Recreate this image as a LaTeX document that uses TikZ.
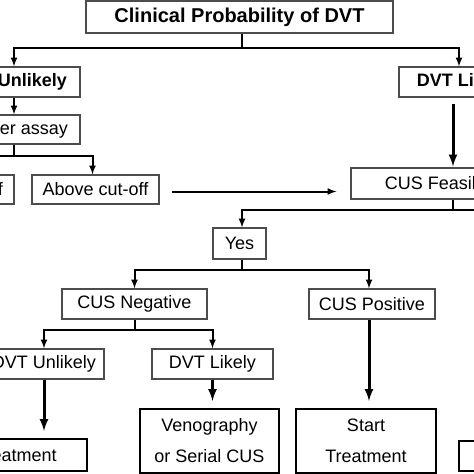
\documentclass[tikz,border=0pt]{standalone}
\usepackage{fontspec}
\setmainfont{Liberation Sans}
\usetikzlibrary{arrows,calc}

\begin{document}
\begin{tikzpicture}[x=1pt,y=-1pt,
    box/.style={draw=black!70, line width=1.2pt, inner sep=0pt, minimum height=30pt,
      font=\fontsize{18}{31}\selectfont, align=center},
    bbox/.style={box, font=\fontsize{18}{31}\selectfont\bfseries},
    endbox/.style={box, draw=black, line width=2.2pt},
    conn/.style={line width=2pt},
    arr/.style={conn, -latex},
    tarr/.style={line width=3pt, -latex, shorten >=7pt},]
    \useasboundingbox (0,0) rectangle (474,474);
    \clip (0,0) rectangle (474,474);
    \node [box, font=\fontsize{20}{24}\selectfont\bfseries, minimum width=307pt, minimum height=32pt] (title) at (239.5,17) {Clinical Probability of DVT};
    \node [bbox, minimum width=136pt] (dvtUa) at (12,82) {DVT Unlikely};
    \node [bbox, minimum width=128pt] (dvtLa) at (463,82) {DVT Likely};
    \node [box, minimum width=140pt, minimum height=29pt] (ddim) at (10,129.5) {D-dimer assay};
    \node [box, minimum width=126pt, minimum height=29pt] (below) at (-49,189.5) {Below cut-off};
    \node [box, minimum width=127pt, minimum height=29pt] (above) at (95.5,189.5) {Above cut-off};
    \node [box, minimum width=179pt, minimum height=31pt] (cusF) at (440.5,183.5) {CUS Feasible};
    \node [box, minimum width=53pt, minimum height=31pt] (yes) at (239.5,243.5) {Yes};
    \node [box, minimum width=145pt] (cusN) at (134.5,304) {CUS Negative};
    \node [box, minimum width=126pt] (cusP) at (372,304) {CUS Positive};
    \node [box, minimum width=120pt] (dvtUb) at (44,364) {DVT Unlikely};
    \node [box, minimum width=121pt] (dvtLb) at (212.5,364) {DVT Likely};
    \node [endbox, minimum width=170pt, minimum height=32pt] (noTr) at (2,455) {No Treatment};
    \node [endbox, minimum width=139pt, minimum height=64pt] (veno) at (209.5,441) {Venography\\or Serial CUS};
    \node [endbox, minimum width=140pt, minimum height=64pt] (start) at (366,441) {Start\\Treatment};
    \node [endbox, minimum width=122pt, minimum height=30pt] (rbox) at (520,456) {};
    % clinical probability split
    \coordinate (t1) at (242,48);
    \coordinate (uL) at (14,0);
    \coordinate (lL) at (459,0);
    \draw [conn] (title.south -| t1) -- (t1);
    \draw [arr] (t1) -| (dvtUa.north -| uL);
    \draw [arr] (t1) -| (dvtLa.north -| lL);
    % unlikely branch
    \draw [arr] (dvtUa.south -| uL) -- (ddim.north -| uL);
    \coordinate (d1) at (14,156);
    \draw [conn] (ddim.south -| d1) -- (d1);
    \draw [arr] (d1) -| ([xshift=-3pt]above.north);
    \draw [arr] (d1) -| (below.north);
    \draw [arr, shorten <=12pt, shorten >=14pt] ([yshift=-2pt]above.east) -- ([yshift=-2pt]above.east -| cusF.west);
    % likely branch
    \draw [tarr, shorten <=6pt, shorten >=1pt] ([xshift=-6pt]dvtLa.south -| lL) -- ([xshift=-6pt]cusF.north -| lL);
    \coordinate (f1) at (453,210);
    \coordinate (noarm) at (560,210);
    \draw [conn] (cusF.south -| f1) -- (f1) -- (noarm);
    \draw [arr] (f1) -| ([xshift=2.5pt]yes.north);
    % feasible
    \coordinate (y1) at (242,270);
    \draw [conn] (yes.south -| y1) -- (y1);
    \draw [arr] (y1) -| (cusN.north);
    \draw [arr] (y1) -| ([xshift=-3pt]cusP.north);
    \coordinate (n1) at (134.5,330);
    \draw [conn] (cusN.south) -- (n1);
    \draw [arr] (n1) -| (dvtUb.north);
    \draw [arr] (n1) -| (dvtLb.north);
    % outcomes
    \draw [tarr] (dvtUb.south) -- (dvtUb.south |- noTr.north);
    \draw [tarr] (dvtLb.south) -- (dvtLb.south |- veno.north);
    \draw [tarr] ([xshift=-3pt]cusP.south) -- ([xshift=-3pt]cusP.south |- start.north);
\end{tikzpicture}
\end{document}
